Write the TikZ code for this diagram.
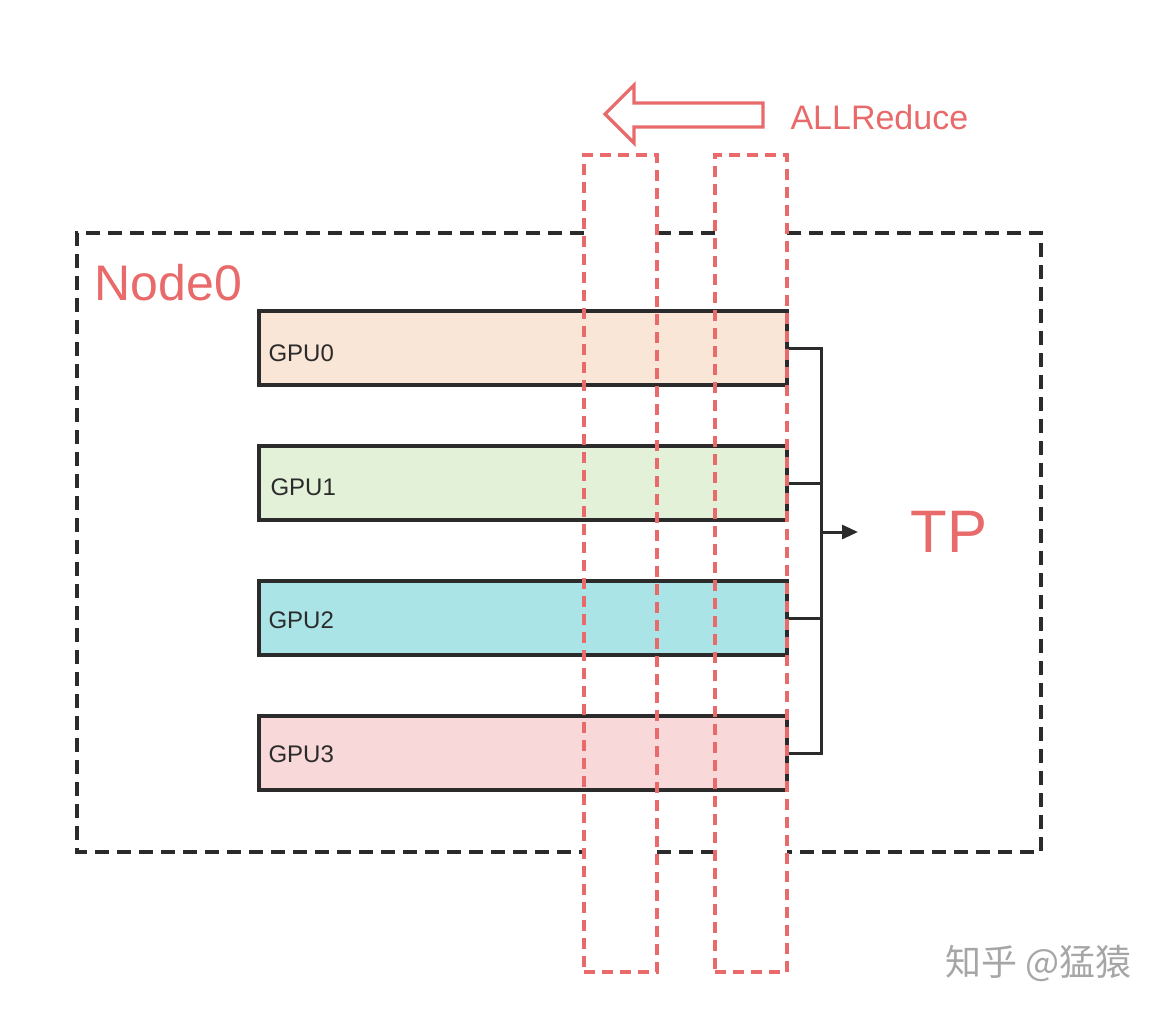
\documentclass[tikz,border=0pt]{standalone}
\usepackage{fontspec}
\setmainfont{Liberation Sans}
\newfontfamily\cjk{Noto Sans CJK SC}
\usetikzlibrary{arrows.meta}
\definecolor{rd}{HTML}{E86A6A}
\definecolor{g0}{HTML}{FAE6D7}
\definecolor{g1}{HTML}{E3F1D8}
\definecolor{g2}{HTML}{ABE4E6}
\definecolor{g3}{HTML}{F8D8D8}
\definecolor{dk}{HTML}{2B2B2B}
\begin{document}
\begin{tikzpicture}[x=1pt,y=-1pt,
  gpu/.style={draw=dk,line width=3.6pt,minimum width=528pt,minimum height=74pt,anchor=west,inner sep=0pt},
  gtxt/.style={font=\fontsize{24}{28}\selectfont,text=dk},
  strip/.style={draw=rd,line width=3.4pt,dash pattern=on 11pt off 7pt},
  nodeb/.style={draw=dk,line width=3.4pt,dash pattern=on 14pt off 8pt},
  conn/.style={draw=dk,line width=3pt}]
\useasboundingbox (0,0) rectangle (1161,1010);
\draw[nodeb] (584,233) -- (77,233) -- (77,852) -- (584,852);
\draw[nodeb] (657,233) -- (715,233);
\draw[nodeb] (657,852) -- (715,852);
\draw[nodeb] (787,233) -- (1041,233) -- (1041,852) -- (787,852);
\node[text=rd,font=\fontsize{50}{56}\selectfont,anchor=west] (n0) at (91,283) {Node0};
\node[gpu,fill=g0] (G0) at (257,348) {};
\node[gpu,fill=g1] (G1) at (257,483) {};
\node[gpu,fill=g2] (G2) at (257,618) {};
\node[gpu,fill=g3] (G3) at (257,753) {};
\node[gtxt,anchor=west] (t0) at (265,353) {GPU0};
\node[gtxt,anchor=west] (t1) at (267,487) {GPU1};
\node[gtxt,anchor=west] (t2) at (265,620) {GPU2};
\node[gtxt,anchor=west] (t3) at (265,754) {GPU3};
\node[strip,minimum width=73pt,minimum height=817pt,inner sep=0pt] (s1) at (620.5,563.5) {};
\node[strip,minimum width=72pt,minimum height=817pt,inner sep=0pt] (s2) at (751,563.5) {};
\coordinate (b0) at (821,348);
\coordinate (b3) at (821,753);
\coordinate (bm) at (821,532);
\draw[conn] (G0.east) -- (b0) -- (b3) -- (G3.east);
\draw[conn] (G1.east) -- (G1.east -| bm);
\draw[conn] (G2.east) -- (G2.east -| bm);
\coordinate (ae) at (858,532);
\draw[conn,-{Triangle[length=16pt,width=14pt]}] (bm) -- (ae);
\node[text=rd,font=\fontsize{60}{64}\selectfont] (tp) at (949,532) {TP};
\draw[rd,line width=3.2pt,line join=miter] (763,103) -- (634,103) -- (634,85) -- (605,114) -- (634,143) -- (634,127) -- (763,127) -- cycle;
\node[text=rd,font=\fontsize{34}{38}\selectfont,anchor=west] (ar) at (787,117) {ALLReduce};
\node[text=gray!70,font=\cjk\fontsize{36}{40}\selectfont,anchor=west] (wm) at (942,963) {知乎 @猛猿};
\end{tikzpicture}
\end{document}
